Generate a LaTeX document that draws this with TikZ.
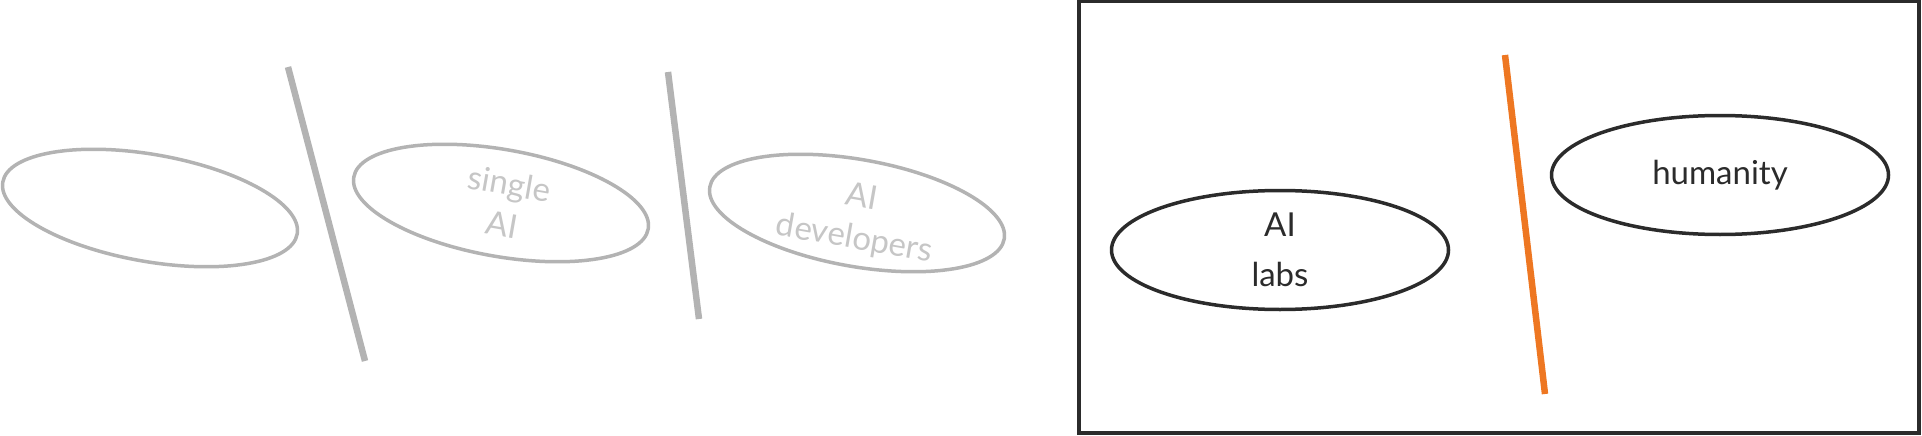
\documentclass[tikz,border=0pt]{standalone}
\usepackage{fontspec}
\setmainfont{Lato}
\usetikzlibrary{shapes.geometric}
\definecolor{paleline}{HTML}{B3B3B3}
\definecolor{paletext}{HTML}{C6C6C6}
\definecolor{darkline}{HTML}{2B2B2B}
\definecolor{cutorange}{HTML}{EE7722}
\begin{document}
\begin{tikzpicture}[x=1pt,y=-1pt,
    oldgroup/.style={ellipse,draw=paleline,line width=3.5pt,minimum width=299pt,
      minimum height=107pt,inner sep=0pt,rotate=-10},
    oldlabel/.style={text=paletext,align=center,inner sep=0pt,rotate=-10,
      font=\fontsize{33}{42}\selectfont},
    oldcut/.style={draw=paleline,line width=6.5pt},
    newgroup/.style={ellipse,draw=darkline,line width=3.5pt,minimum width=337pt,
      minimum height=119pt,inner sep=0pt,text=darkline,align=center,
      font=\fontsize{33}{50}\selectfont}]
  \useasboundingbox (0,0) rectangle (1922,436);
  % greyed out options on the left
  \node[oldgroup] (nobody) at (150,208) {};
  \coordinate (cutAtop) at (288,67);
  \coordinate (cutAbot) at (365,361);
  \draw[oldcut] (cutAtop) -- (cutAbot);
  \node[oldgroup] (single) at (501,203) {};
  \node[oldlabel] (singletext) at (506,204) {single\\AI};
  \coordinate (cutBtop) at (668,72);
  \coordinate (cutBbot) at (699,319);
  \draw[oldcut] (cutBtop) -- (cutBbot);
  \node[oldgroup] (developers) at (857,213) {};
  \node[oldlabel] (devtext) at (858,219) {AI\\developers};
  % the chosen split, framed
  \draw[darkline,line width=3.5pt] (1079,1.5) rectangle (1919,433);
  \node[newgroup] (labs) at (1280,250) {AI\\labs};
  \coordinate (cutCtop) at (1505,55);
  \coordinate (cutCbot) at (1545,394);
  \draw[cutorange,line width=6.5pt] (cutCtop) -- (cutCbot);
  \node[newgroup] (humanity) at (1720,175) {humanity};
\end{tikzpicture}
\end{document}
